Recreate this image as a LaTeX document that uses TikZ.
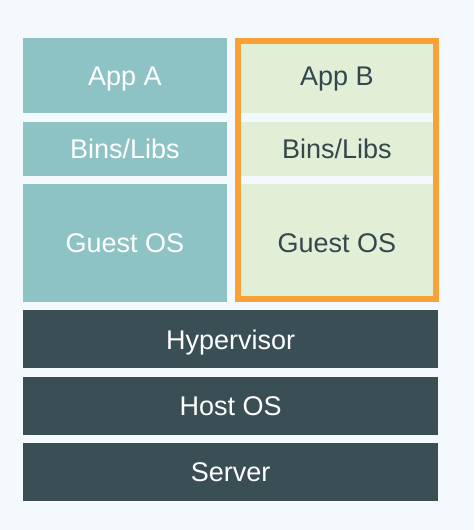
\documentclass[tikz,border=0pt]{standalone}
\usepackage{fontspec}
\setmainfont{Liberation Sans}
\usetikzlibrary{positioning, fit}
\definecolor{pagebg}{HTML}{F3F9FC}
\definecolor{tealfill}{HTML}{8DC3C4}
\definecolor{greenfill}{HTML}{E1EFD6}
\definecolor{slatefill}{HTML}{3A4E56}
\definecolor{slatetext}{HTML}{34474C}
\definecolor{orangeline}{HTML}{F8A136}
\tikzstyle{vmA} = [rectangle, minimum width=203.5pt, inner sep=0pt, text height=19.3pt, text depth=0pt, text centered, draw=none, fill=tealfill, text=white, font=\fontsize{27}{32}\selectfont]
\tikzstyle{vmB} = [rectangle, minimum width=203.5pt, inner sep=0pt, text height=19.3pt, text depth=0pt, text centered, draw=none, fill=greenfill, text=slatetext, font=\fontsize{27}{32}\selectfont]
\tikzstyle{layer} = [rectangle, minimum width=415pt, minimum height=58pt, inner sep=0pt, text height=19.3pt, text depth=0pt, text centered, draw=none, fill=slatefill, text=white, font=\fontsize{27}{32}\selectfont]
\tikzstyle{highlight} = [rectangle, draw=orangeline, line width=6pt, inner sep=-3pt]

\begin{document}
\begin{tikzpicture}[node distance=8pt]
\fill[pagebg] (0pt,0pt) rectangle (474pt,-530pt);
\useasboundingbox (0pt,0pt) rectangle (474pt,-530pt);
% virtual machine A
\node (appA) [vmA, minimum height=75pt, anchor=north west] at (23pt,-38pt) {App A};
\node (libsA) [vmA, minimum height=54pt, below=of appA] {Bins/Libs};
\node (osA) [vmA, minimum height=118pt, below=of libsA] {Guest OS};
% virtual machine B
\node (appB) [vmB, minimum height=75pt, right=of appA] {App B};
\node (libsB) [vmB, minimum height=54pt, below=of appB] {Bins/Libs};
\node (osB) [vmB, minimum height=118pt, below=of libsB] {Guest OS};
\node (frameB) [highlight, fit=(appB)(osB)] {};
% shared layers
\node (hyper) [layer, below=of osA.south west, anchor=north west] {Hypervisor};
\node (host) [layer, below=of hyper] {Host OS};
\node (server) [layer, below=of host] {Server};
\end{tikzpicture}
\end{document}
